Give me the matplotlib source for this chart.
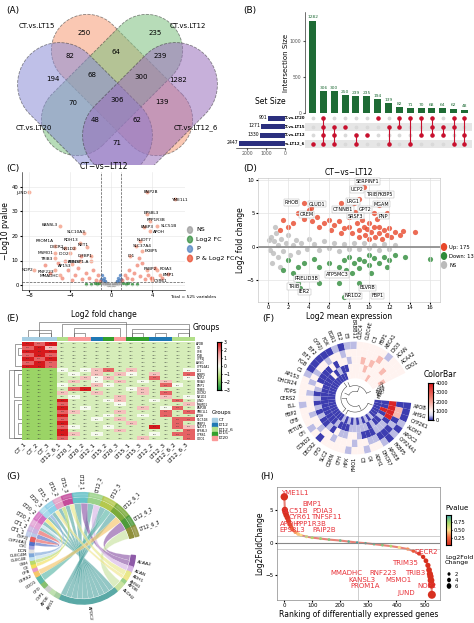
import numpy as np
import matplotlib
matplotlib.use("Agg")
import matplotlib.pyplot as plt
from matplotlib.patches import Wedge, PathPatch, Rectangle, Polygon, Circle
from matplotlib.path import Path
from matplotlib.colors import LinearSegmentedColormap

plt.rcParams['font.family'] = ['DejaVu Sans']

# ---------------- DATA ----------------
venn_sets = ["CT.vs.LT15", "CT.vs.LT12", "CT.vs.LT20", "CT.vs.LT12_6"]
venn_counts = [250, 235, 82, 64, 239, 194, 68, 300, 1282, 70, 306, 139, 48, 62, 71]

upset_values = [1282, 306, 300, 250, 239, 235, 194, 139, 82, 71, 70, 68, 64, 62, 48]
upset_sets = ["CT.vs.LT20", "CT.vs.LT15", "CT.vs.LT12", "CT.vs.LT12_6"]
upset_set_sizes = [901, 1271, 1330, 2447]
upset_members = [[3], [0, 1, 2, 3], [1, 2, 3], [1], [2, 3], [2], [0], [1, 3], [0, 1],
                 [0, 3], [0, 2], [0, 1, 2], [1, 2], [0, 1, 3], [0, 2, 3]]

volc_genes = ["JUND", "KANSL3", "SLC10A3", "PROM1A", "RDH13", "DECR2", "NR1D2", "NET1", "MSMO1",
              "IDO2", "IGFBP1", "TRIB3", "FMN3", "ADUSP1-A", "AP1S3", "NOP2", "RNF223", "MMADHC",
              "PAIP2B", "YME1L1", "EPS8L3", "PPP1R3B", "FABP3", "APOH", "SLC51B", "NUDT7",
              "SLC37A4", "FKBP5", "ID1", "PSBP2", "PDIA3", "BMP1", "CYR61"]
volc_x = [-8, -5, -2.7, -5.5, -3, -4.5, -3.6, -2.4, -5.5, -4, -2, -5.5, -3, -2, -3.8, -7.5, -5.5, -5,
          3.5, 6.2, 3.5, 3.8, 3.2, 3.8, 4.5, 2.8, 2.4, 3, 1.8, 3.5, 4.5, 4.8, 4]
volc_y = [38, 24, 21, 16, 17, 15, 15, 15.5, 13, 13, 12, 11, 10, 10, 8.5, 6, 6, 4,
          38, 35, 29, 26, 23.5, 22, 24, 18, 16, 14, 12, 6, 6, 4, 2]
volc_lab_x = [-8.2, -5.2, -2.5, -5.6, -3.2, -4.6, -3.4, -2.2, -5.6, -4.1, -1.8, -5.6, -3.1, -2.1, -3.9,
              -7.6, -5.6, -5.1, 3.2, 5.9, 3.2, 3.5, 2.9, 4.1, 4.8, 2.5, 2.1, 3.3, 1.6, 3.2, 4.7, 5.0, 4.2]
volc_lab_y = [37.5, 24.5, 21.5, 18, 18.5, 15.5, 14.5, 16.5, 13, 12.5, 12, 10.5, 9.5, 9.5, 7.8,
              6, 5.5, 3.8, 38, 34.5, 29.5, 26.5, 23.5, 21.5, 24, 18.5, 16, 14, 12, 6.5, 6.5, 4, 1.6]
volc_red_x = [-6.5, -6, -5.2, -4.8, -4.2, -3.5, -3.2, -2.8, -2.5, -2.2, -1.8, -1.5, -1.3, -1.1,
              1.1, 1.3, 1.5, 1.7, 2, 2.2, 2.5, 2.8, 3, 3.3, 3.6, 4, 4.3, 5, 5.5, -4.5, -3.8, -2.9, 2.7, 3.9]
volc_red_y = [8, 5, 9, 3, 6, 4, 7, 2.5, 5, 3, 6, 2, 4, 1.8, 2, 4, 3, 6, 2.5, 5, 8, 3.5, 9, 2.5, 4,
              3, 7, 3, 4.5, 10, 2.2, 12, 11, 2.8]
volc_ns_x = [-0.9, -0.7, -0.5, -0.3, -0.1, 0.1, 0.3, 0.5, 0.7, 0.9, -0.6, -0.2, 0.2, 0.6, 0, -0.4, 0.4]
volc_ns_y = [0.8, 0.5, 0.3, 0.2, 0.1, 0.1, 0.2, 0.3, 0.5, 0.8, 1.5, 0.6, 0.6, 1.5, 0.3, 1.0, 1.0]
volc_p_x = [-0.95, -0.8, -0.6, 0.6, 0.8, 0.95, -0.7, 0.7, -0.9, 0.9]
volc_p_y = [2.5, 2.0, 1.6, 1.6, 2.0, 2.5, 3.0, 3.0, 4.0, 4.0]
volc_fc_x = [-2.5, -2, -1.6, -1.2, 1.2, 1.6, 2, 2.5, -1.4, 1.4]
volc_fc_y = [0.3, 0.6, 0.9, 1.0, 1.0, 0.9, 0.6, 0.3, 0.4, 0.4]

ma_up = [(1.2,2.5),(1.5,4),(2,3),(2.5,3.5),(3,5),(3.5,4.2),(4,5.5),(4.3,3.8),(4.8,4.5),(5,3),(5.5,3.5),
         (6,4),(6.2,2.5),(6.5,3.2),(7,3.8),(7.2,2),(7.5,2.8),(8,4.5),(8,3),(8.3,2),(8.6,5.2),(8.8,3.5),
         (9,2.5),(9,1.5),(9.3,4),(9.5,3),(9.6,1.8),(9.8,2.6),(10,3.5),(10,1.2),(10.2,2.2),(10.5,2.9),
         (10.6,1.5),(10.8,4.2),(11,2),(11,3),(11.3,1.2),(11.5,2.5),(11.8,1.8),(12,2.8),(12.2,1.5),
         (12.5,2.2),(13,1.8),(13.3,2.4),(14.5,2.2),(8.5,8.8),(9.3,9.8),(9.5,9),(9,7.2),(10.5,7.8),
         (10.8,6.5),(11,6.2),(9.8,5.8),(11.8,5),(3.5,6.5),(4.2,5.8),(7.2,6.6),(8.5,6.5),(10.5,5)]
ma_down = [(1.5,-3.5),(2,-2),(2.5,-4),(3,-3),(3,-5.5),(3.5,-2.5),(4,-4.5),(4.5,-1.8),(5,-3),(5,-5.5),
           (6,-2.5),(6.5,-4),(7,-3),(7,-5.5),(7.5,-2),(7.7,-3.5),(7.5,-7.5),(8,-1.5),(8.3,-4),(8.5,-2.5),
           (9,-1.8),(9,-3.2),(9,-5.5),(9.5,-2.2),(10,-1.2),(10,-2.8),(10.2,-4),(10.5,-1.7),(10.8,-7.2),
           (11,-2.4),(11.5,-1.5),(11.8,-3),(12,-2),(12.5,-1.3),(13.5,-1.5),(16,-1.8),(3.2,-6.2),(3.5,-4.8)]
ma_ns = [(0.1,1),(0.2,-0.5),(0.3,1.5),(0.5,-1),(0.6,0.8),(0.8,2),(1,-1.5),(1,0.3),(1.3,1.2),(1.5,-0.6),
         (1.8,0.5),(2,1.8),(2.2,-1.2),(2.5,0.2),(2.8,1),(3,-0.8),(3.3,0.6),(3.8,-0.3),(4,1.2),(4.5,0.4),
         (5,-0.5),(5.5,0.8),(6,-0.2),(6.5,0.5),(7,-0.6),(7.5,0.4),(8,-0.3),(8.5,0.6),(9,-0.4),(9.5,0.5),
         (10,-0.2),(10.5,0.3),(11,-0.5),(11.5,0.4),(12,-0.3),(12.5,0.2),(0.4,-2.5),(1.2,-3),(0.7,3)]
ma_labels = ["SERPINF1", "UCP2", "TRIB3", "FKBP5", "RHOB", "GLUD1", "LRG1", "MGAM", "CTNNB1", "GPT2",
             "CREM", "SRSF3", "PNP", "PRELID3B", "ATP5MC3", "TRIB", "IER2", "BLVRB", "NR1D2", "FBP1"]
ma_lab_x = [9.8, 8.8, 10.4, 11.6, 2.3, 4.8, 8.4, 11.2, 7.4, 9.6, 3.8, 8.6, 11.4, 3.8, 6.8, 2.5, 3.6, 9.8, 8.4, 10.8]
ma_lab_y = [9.8, 8.6, 7.8, 7.8, 6.6, 6.4, 6.8, 6.4, 5.6, 5.6, 4.8, 4.6, 4.6, -4.8, -4.2, -6.0, -6.8, -6.2, -7.4, -7.4]

heat_samples = ["CT_1", "CT_2", "CT_3", "LT12_6_1", "LT20_1", "LT20_2", "LT12_1", "LT15_2", "LT20_3",
                "LT15_1", "LT15_3", "LT12_2", "LT12_3", "LT12_6_2", "LT12_6_3"]
heat_groups = ["CT", "CT", "CT", "LT12_6", "LT20", "LT20", "LT12", "LT15", "LT20", "LT15", "LT15",
               "LT12", "LT12", "LT12_6", "LT12_6"]
heat_rows = ["APOB", "C3", "CFB", "FGB", "CYP2J", "AHSG", "CYP24A1", "ID1", "FKBP5", "NOP2", "PDIA3",
             "BMP1", "TRIB3", "DECR2", "NR1D2", "JUND", "MSMO1", "PAIP2B", "YME1L1", "APOH", "SLC51B",
             "FABP3", "NUDT7", "EPS8L3", "CYR61", "CDO1"]
heat_grid = ["RrRgggggggggggg", "rRpgggggggggggg", "RRRgggggggggggg", "rRrgggggggggggg",
             "RrRgggggggggggg", "rRrgggggggggggg", "RRrgggggggggggg",
             "GGGwgwprgpggggw", "GGGgwgpgpwgpggr", "GGGggpwpgggrggw", "GGGgpgwgpgwgpgg",
             "GGGwggpwggggrwg", "GGGgrRgggwpgggg", "GGGpggpgggpgrgg", "GGGgwgggpgggpgw",
             "GGGRgggwpggwgrg", "GGGrggggwgggggp", "GGGRgwggggpgwrg", "GGGrpgggpgggrgr",
             "GGGRgggwggwgrgg", "GGGrggwgpggggrr", "GGGRgggggpgggrg", "GGGrwggwgggRgrp",
             "GGGRggggpgggggr", "GGGRpgwggggwgrr", "GGGrggggggpgggr"]
heat_code = {"R": 3.0, "r": 2.2, "p": 1.0, "w": 0.0, "g": -0.6, "G": -1.6}

circ_genes = ["APOB", "AHSG", "CYP2K1", "ALDH2", "APOC2", "CYP24A1", "FKBP5", "APOE8", "DHCR7", "ADH1",
              "C4", "C3", "FMO1", "HPX", "CFH", "CDKN", "SLC2", "CFD", "DECR2", "CCND2", "CFI", "FETUB",
              "CFB", "FBP2", "ELL", "CERS2", "FDPS", "DHCR24", "AP1S3", "C1", "FGB", "EIF1", "EIF2",
              "CYP2J", "FOX", "EGR1", "E12", "E3", "ERBB11", "CLEC4", "CLEC4E", "C3 ", "FBP1", "ABCA1",
              "DIO3", "ACAN", "ACAA2", "CDO1"]
circ_grid = ["BBRBB", "BBRPB", "BRRPB", "BBRBL", "BLBLB", "BBLBL", "LBLBB", "BLLBL", "LBBLW", "BLBLW",
             "LLBWL", "BLLWW", "LLWLW", "BLWWL", "LBLWW", "BBLWW", "LBWLW", "BLBWW", "BBLWB", "BBBLW",
             "BBBWL", "BBLWW", "BBBLW", "BBLWW", "BBBWL", "BBLWW", "BBBLW", "BBLWW", "BBWLW", "BBBWL",
             "BBBLB", "BBBWB", "BWBWB", "BBWLB", "BLBWB", "BBWWL", "WBWLB", "WWLWL", "WWWWL", "WWWWW",
             "WWPWW", "WPWWW", "WWPWW", "PWWPW", "WWWWL", "WWPWW", "WWWWW", "WPWWW"]
circ_code = {"B": 0, "L": 400, "W": 1000, "P": 1700, "R": 3800}

chord_samples = ["CT1_1", "CT1_2", "LT20_1", "LT20_2", "LT20_3", "LT15_1", "LT15_2", "LT15_3",
                 "LT12_1", "LT12_2", "LT12_3", "LT12_6_1", "LT12_6_2", "LT12_6_3"]
chord_sample_colors = ["#B9C8E8", "#C9B3E0", "#E3A5D6", "#D46FC1", "#A9DCEB", "#8ED0E8", "#E4A0C6",
                       "#C44C9B", "#66C2C8", "#9BD28A", "#B4C84E", "#7BAA3A", "#4E9A3A", "#8F8F3A"]
chord_sample_w = [3, 3, 4, 5, 4, 5, 5, 6, 9, 8, 8, 9, 6, 6]
chord_genes = ["ACAA2", "ACAN", "ADH1", "AHSG", "APOB", "ALDH2", "APOC2", "ARG1", "APOE", "CYP1", "CFD",
               "CDO1", "CERS2", "CFB", "C3", "CBH", "CLEC4E", "CLEC4M", "DCN", "CYC", "CYP24A1", "CYP2J"]
chord_gene_w = [6, 3, 3, 2, 2, 5, 32, 3, 3, 3, 3, 4, 3, 2, 2, 2, 2, 2, 2, 2, 2, 2]
chord_gene_colors = ["#8E5AA8", "#D7B6E6", "#E8E88A", "#F0E68C", "#9BD28A", "#C9E3A0", "#5AA9A6",
                     "#A6CFA0", "#BFE0B0", "#CFCFCF", "#88C070", "#5DB8A8", "#F6C66A", "#E89AC8",
                     "#F2E05A", "#B9DA6A", "#C1E0EE", "#7DA7D9", "#E0E0E0", "#A7A7E0", "#5470C6", "#E86060"]
chord_links = [(0, 20), (1, 21), (2, 6), (3, 6), (4, 6), (5, 6), (6, 6), (7, 6), (8, 6), (9, 6), (10, 6),
               (11, 6), (12, 0), (13, 5), (8, 0), (9, 1), (10, 11), (11, 12), (7, 2), (5, 3), (3, 14),
               (2, 16), (4, 17), (6, 15)]

rank_x = [1, 3, 5, 8, 12, 16, 20, 25, 30, 40, 50, 60, 80, 100, 130, 160, 200, 230, 260, 290, 320, 350,
          380, 410, 440, 460, 480, 495, 505, 512, 516, 519, 521, 523, 525, 526]
rank_y = [7.0, 5.0, 4.6, 4.2, 3.8, 3.3, 2.8, 2.4, 2.0, 1.6, 1.3, 1.1, 0.9, 0.75, 0.6, 0.45, 0.3, 0.15,
          0.0, -0.1, -0.25, -0.4, -0.55, -0.75, -1.0, -1.3, -1.7, -2.2, -2.8, -3.5, -4.2, -4.8, -5.2,
          -5.8, -6.5, -8.0]
rank_p = [0.01, 0.02, 0.03, 0.05, 0.07, 0.1, 0.15, 0.2, 0.25, 0.35, 0.45, 0.5, 0.6, 0.7, 0.75, 0.8,
          0.85, 0.9, 0.95, 0.9, 0.85, 0.8, 0.7, 0.5, 0.35, 0.2, 0.1, 0.05, 0.03, 0.02, 0.01, 0.01,
          0.01, 0.01, 0.01, 0.01]
rank_up_labels = ["YME1L1", "BMP1", "SLC51B", "PDIA3", "CYR61", "TNFSF11", "APOH", "PPP1R3B", "EPS8L3", "PAIP2B"]
rank_up_lx = [-10, 65, -10, 100, 15, 95, -15, 40, -15, 100]
rank_up_ly = [7.6, 5.9, 4.9, 4.9, 3.9, 3.9, 2.9, 2.9, 1.9, 1.9]
rank_dn_labels = ["DECR2", "TRIM35", "MMADHC", "RNF223", "TRIB3", "KANSL3", "MSMO1", "PROM1A", "NOP2", "JUND"]
rank_dn_lx = [465, 385, 165, 305, 430, 230, 360, 235, 475, 405]
rank_dn_ly = [-1.5, -3.2, -4.7, -4.7, -4.7, -5.8, -5.8, -6.7, -6.7, -7.8]

# ---------------- FIGURE ----------------
W, H = 474, 623
fig = plt.figure(figsize=(W / 100, H / 100), dpi=100)


def px_axes(x0, y0, x1, y1, **kw):
    return fig.add_axes([x0 / W, 1 - y1 / H, (x1 - x0) / W, (y1 - y0) / H], **kw)


for lab, x, y in [("(A)", 6, 10), ("(B)", 243, 10), ("(C)", 6, 168), ("(D)", 243, 168),
                  ("(E)", 6, 318), ("(F)", 262, 318), ("(G)", 6, 476), ("(H)", 260, 476)]:
    fig.text(x / W, 1 - y / H, lab, fontsize=6.5, va="center")


def stadium(cx, cy, half_len, half_w, dx, dy, n=30):
    u = np.array([dx, dy]) / np.hypot(dx, dy)
    v = np.array([-u[1], u[0]])
    c1 = np.array([cx, cy]) + u * (half_len - half_w)
    c2 = np.array([cx, cy]) - u * (half_len - half_w)
    base = np.arctan2(u[1], u[0])
    pts = []
    for t in np.linspace(-np.pi / 2, np.pi / 2, n):
        pts.append(c1 + half_w * (np.cos(t) * u + np.sin(t) * v))
    for t in np.linspace(np.pi / 2, 3 * np.pi / 2, n):
        pts.append(c2 + half_w * (np.cos(t) * u + np.sin(t) * v))
    return np.array(pts)


# ---- A: Venn
axA = px_axes(8, 12, 232, 165)
axA.set_xlim(8, 232); axA.set_ylim(165, 12); axA.axis("off")
for (cx, cy, hl, hw, dx, dy, col) in [(122, 85, 85, 36, 1, 1, "#F79B75"), (112, 85, 85, 36, -1, 1, "#7CC07E"),
                                       (85, 110, 78, 42, 1, 1, "#8B8DD6"), (150, 110, 78, 42, -1, 1, "#9A70BC")]:
    axA.add_patch(Polygon(stadium(cx, cy, hl, hw, dx, dy), closed=True, facecolor=col, alpha=0.55,
                          edgecolor="#333333", ls="--", lw=0.6))
venn_pos = [(84, 33), (155, 33), (70, 56), (116, 52), (160, 56), (53, 79), (92, 75), (141, 77), (178, 80),
            (73, 103), (117, 100), (162, 102), (95, 120), (137, 120), (117, 143)]
for (x, y), v in zip(venn_pos, venn_counts):
    axA.text(x, y, str(v), ha="center", va="center", fontsize=5)
for name, (x, y) in zip(venn_sets, [(37, 26), (188, 26), (34, 128), (196, 128)]):
    axA.text(x, y, name, ha="center", va="center", fontsize=5)

# ---- B: UpSet
green = "#1E6B35"
n = len(upset_values)
axB = px_axes(305, 12, 472, 113)
xs = np.arange(n)
axB.bar(xs, upset_values, width=0.65, color=green)
for x, v in zip(xs, upset_values):
    axB.text(x, v + 15, str(v), ha="center", va="bottom", fontsize=3.2, color=green)
axB.set_xlim(-0.7, n - 0.3); axB.set_ylim(0, 1400)
axB.set_yticks([0, 500, 1000]); axB.set_yticklabels(["0", "500", "1000"])
axB.tick_params(labelsize=3.3, length=1.5, pad=1, colors="#555555")
axB.set_xticks([])
for s in ["top", "right", "bottom"]:
    axB.spines[s].set_visible(False)
axB.spines["left"].set_linewidth(0.4)
axB.set_ylabel("Intersection Size", fontsize=5, labelpad=1)

axM = px_axes(305, 114, 472, 148)
axM.set_xlim(-0.7, n - 0.3); axM.set_ylim(3.5, -0.5); axM.axis("off")
for r in range(4):
    if r % 2 == 1:
        axM.axhspan(r - 0.5, r + 0.5, color="#E6E6E6", lw=0)
    axM.scatter(xs, [r] * n, s=3, color="#D9D9D9", zorder=2)
for i, mem in enumerate(upset_members):
    if len(mem) > 1:
        axM.plot([i, i], [min(mem), max(mem)], color="#C8102E", lw=0.8, zorder=3)
    axM.scatter([i] * len(mem), mem, s=5, color="#C8102E", zorder=4)
axN = px_axes(283, 114, 305, 148)
axN.set_xlim(0, 1); axN.set_ylim(3.5, -0.5); axN.axis("off")
for r, s in enumerate(upset_sets):
    axN.text(1, r, s, fontsize=2.8, ha="right", va="center", fontweight="bold")
axS = px_axes(236, 114, 285, 148)
axS.barh(range(4), upset_set_sizes, height=0.55, color="#2B2F7E")
axS.set_xlim(2600, 0); axS.set_ylim(3.5, -0.5)
axS.set_yticks([]); axS.set_xticks([2000, 1000, 0])
axS.tick_params(labelsize=3.3, length=1.5, pad=1, colors="#555555")
for s in ["top", "right", "left"]:
    axS.spines[s].set_visible(False)
axS.spines["bottom"].set_linewidth(0.4)
for r, v in enumerate(upset_set_sizes):
    axS.text(v + 50, r - 0.1, str(v), fontsize=3.3, ha="right", va="center")
fig.text(270 / W, 1 - 104 / H, "Set Size", fontsize=5.5, ha="center")

# ---- C: volcano
axC = px_axes(22, 172, 185, 290)
axC.grid(color="#E5E5E5", lw=0.4)
axC.scatter(volc_ns_x, volc_ns_y, s=6, color="#999999", alpha=0.7, lw=0)
axC.scatter(volc_fc_x, volc_fc_y, s=6, color="#2E8B3A", alpha=0.8, lw=0)
axC.scatter(volc_p_x, volc_p_y, s=6, color="#4A7FC0", alpha=0.8, lw=0)
axC.scatter(volc_red_x, volc_red_y, s=8, color="#E8472A", alpha=0.5, lw=0)
axC.scatter(volc_x, volc_y, s=8, color="#F08060", alpha=0.6, lw=0)
for g, x, y in zip(volc_genes, volc_lab_x, volc_lab_y):
    axC.text(x, y, g, fontsize=3.1, va="center", ha="left" if x > 0 else "right")
axC.axvline(-1, ls="--", color="#555555", lw=0.5)
axC.axvline(1, ls="--", color="#555555", lw=0.5)
axC.axhline(1.3, ls="--", color="#555555", lw=0.5)
axC.set_xlim(-8.7, 7.2); axC.set_ylim(-2, 46)
axC.set_xticks([-8, -4, 0, 4]); axC.set_yticks([0, 10, 20, 30, 40])
axC.tick_params(labelsize=3.8, length=1.5, pad=1)
for s in axC.spines.values():
    s.set_visible(False)
axC.spines["left"].set_visible(True); axC.spines["bottom"].set_visible(True)
axC.spines["left"].set_linewidth(0.4); axC.spines["bottom"].set_linewidth(0.4)
axC.set_title("CT\u2212vs\u2212LT12", fontsize=5.5, pad=2)
axC.set_xlabel("Log2 fold change", fontsize=5.5, labelpad=8)
axC.set_ylabel("\u2212Log10 pvalue", fontsize=5.5, labelpad=1)
fig.text(170 / W, 1 - 298 / H, "Total = 525 variables", fontsize=3.2, ha="left")
for i, (lab, col) in enumerate([("NS", "#999999"), ("Log2 FC", "#2E8B3A"), ("P", "#4A7FC0"),
                                ("P & Log2 FC", "#E8472A")]):
    yy = 230 + i * 9.5
    fig.patches.append(Circle((190 / W, 1 - yy / H), 2.5 / W, transform=fig.transFigure, color=col, alpha=0.7))
    fig.text(196 / W, 1 - yy / H, lab, fontsize=4.6, va="center")

# ---- D: MA plot
axD = px_axes(258, 178, 440, 302)
axD.grid(color="#E3E3E3", lw=0.5)
axD.scatter([p[0] for p in ma_ns], [p[1] for p in ma_ns], s=14, color="#BBBBBB", alpha=0.8, lw=0)
axD.scatter([p[0] for p in ma_up], [p[1] for p in ma_up], s=14, color="#E8472A", alpha=0.8, lw=0)
axD.scatter([p[0] for p in ma_down], [p[1] for p in ma_down], s=14, color="#2E8B3A", alpha=0.8, lw=0)
axD.axhline(0, color="#888888", lw=1.2)
for g, x, y in zip(ma_labels, ma_lab_x, ma_lab_y):
    axD.text(x, y, g, fontsize=3.5, ha="center", va="center",
             bbox=dict(boxstyle="square,pad=0.15", fc="white", ec="#AAAAAA", lw=0.3))
axD.set_xlim(-1, 17); axD.set_ylim(-8.3, 10.3)
axD.set_xticks(range(0, 17, 2)); axD.set_yticks([-5, 0, 5, 10])
axD.tick_params(labelsize=3.8, length=1.5, pad=1)
for s in axD.spines.values():
    s.set_linewidth(0.4); s.set_color("#BBBBBB")
axD.set_title("CT\u2212vs\u2212LT12", fontsize=5.5, pad=2)
axD.set_xlabel("Log2 mean expression", fontsize=5.5, labelpad=1)
axD.set_ylabel("Log2 fold change", fontsize=5.5, labelpad=1)
for i, (lab, col) in enumerate([("Up: 175", "#E8472A"), ("Down: 133", "#2E8B3A"), ("NS", "#BBBBBB")]):
    yy = 247 + i * 9
    fig.patches.append(Circle((444 / W, 1 - yy / H), 2.5 / W, transform=fig.transFigure, color=col))
    fig.text(449 / W, 1 - yy / H, lab, fontsize=3.8, va="center")

# ---- E: heatmap
gcols = {"CT": "#A6CEE3", "LT12": "#1F78B4", "LT12_6": "#B2DF8A", "LT15": "#33A02C", "LT20": "#FB9A99"}
heat = np.array([[heat_code[c] for c in row] for row in heat_grid])
cmapE = LinearSegmentedColormap.from_list("gwr", ["#1A9641", "#A6D96A", "#F7FBEF", "#F4A3A3", "#D7191C"])
axE = px_axes(22, 342, 195, 440)
axE.imshow(heat, cmap=cmapE, vmin=-3, vmax=3, aspect="auto", interpolation="nearest")
for i in range(heat.shape[0]):
    for j in range(heat.shape[1]):
        axE.text(j, i, f"{heat[i, j]:.2f}", fontsize=1.3, ha="center", va="center", color="#333333")
axE.set_xticks(range(len(heat_samples)))
axE.set_xticklabels(heat_samples, rotation=45, ha="right", fontsize=4.2)
axE.set_yticks(range(len(heat_rows)))
axE.set_yticklabels(heat_rows, fontsize=2.2)
axE.yaxis.tick_right()
axE.tick_params(length=0, pad=1)
for s in axE.spines.values():
    s.set_visible(False)
axG = px_axes(22, 337, 195, 341)
axG.imshow([[matplotlib.colors.to_rgb(gcols[g]) for g in heat_groups]], aspect="auto")
axG.axis("off")
axT = px_axes(22, 322, 195, 337)
axT.set_xlim(-0.5, len(heat_samples) - 0.5); axT.set_ylim(0, 1); axT.axis("off")
for a, b, h in [(0, 2, 0.5), (3, 14, 0.9), (4, 8, 0.6), (9, 14, 0.55), (1, 2, 0.3), (4, 5, 0.3), (9, 10, 0.3),
                (11, 12, 0.3), (13, 14, 0.3), (1.0, 8.5, 1.0)]:
    axT.plot([a, a, b, b], [0, h, h, 0], color="#555555", lw=0.4)
axL = px_axes(8, 342, 22, 440)
axL.set_ylim(len(heat_rows) - 0.5, -0.5); axL.set_xlim(0, 1); axL.axis("off")
for a, b, h in [(0, 6, 0.5), (7, 25, 0.95), (7, 14, 0.6), (15, 25, 0.6), (1, 3, 0.3), (8, 11, 0.3),
                (16, 20, 0.3), (21, 24, 0.3)]:
    axL.plot([1, 1 - h, 1 - h, 1], [a, a, b, b], color="#555555", lw=0.4)
fig.text(193 / W, 1 - 330 / H, "Groups", fontsize=5.5, ha="left")
cbE = px_axes(217, 342, 221, 390)
cbE.imshow(np.linspace(3, -3, 50)[:, None], cmap=cmapE, aspect="auto", extent=[0, 1, -3, 3])
cbE.yaxis.tick_right(); cbE.set_xticks([])
cbE.set_yticks([-3, -2, -1, 0, 1, 2, 3]); cbE.tick_params(labelsize=3.3, length=1, pad=1)
fig.text(212 / W, 1 - 414 / H, "Groups", fontsize=4, ha="left")
for i, g in enumerate(["CT", "LT12", "LT12_6", "LT15", "LT20"]):
    yy = 420 + i * 4.5
    fig.patches.append(Rectangle((212 / W, 1 - (yy + 2) / H), 5 / W, 4 / H, transform=fig.transFigure,
                                 color=gcols[g]))
    fig.text(219 / W, 1 - yy / H, g, fontsize=3.2, va="center")

# ---- F: circular heatmap
cmapF = LinearSegmentedColormap.from_list("bwr", [(0, "#3D3DB0"), (0.12, "#D8D8F0"), (0.25, "#FFF3F0"),
                                                  (0.6, "#F08070"), (1, "#D7191C")])
axF = px_axes(293, 336, 417, 460, projection="polar")
axF.set_theta_direction(-1)
axF.set_theta_zero_location("N")
ng = len(circ_genes)
gap = 0.55
step = (2 * np.pi - gap) / ng
start = np.deg2rad(95)
for i, (g, ring) in enumerate(zip(circ_genes, circ_grid)):
    th = start + i * step
    for k, c in enumerate(ring):
        axF.bar(th, 0.13, width=step, bottom=0.35 + k * 0.13, color=cmapF(circ_code[c] / 4000),
                edgecolor="none", align="edge")
    ang = (np.rad2deg(th + step / 2)) % 360
    # screen angle (counterclockwise from east)
    scr = (90 - ang) % 360
    right = scr < 90 or scr > 270
    rot = scr if right else scr - 180
    axF.text(th + step / 2, 1.05, g, fontsize=3.6, rotation=rot, rotation_mode="anchor",
             ha="left" if right else "right", va="center")
for k, s in enumerate(["LT12_1", "LT12_2", "LT12_3", "LT15_1", "LT15_3"]):
    axF.text(start - 0.08 * (5 - k), 0.38, s, fontsize=2.5, rotation=60, ha="left")
# inner dendrogram (simple)
for a, b, r in [(0.3, 2.0, 0.25), (2.2, 4.0, 0.25), (4.2, 5.8, 0.22), (1.0, 3.0, 0.15), (3.5, 5.0, 0.12)]:
    t = np.linspace(start + a, start + b, 20)
    axF.plot(t, [r] * 20, color="#333333", lw=0.35)
    axF.plot([start + a] * 2, [r, r + 0.08], color="#333333", lw=0.35)
    axF.plot([start + b] * 2, [r, r + 0.08], color="#333333", lw=0.35)
axF.set_ylim(0, 1.1); axF.axis("off")
fig.text(424 / W, 1 - 377 / H, "ColorBar", fontsize=5.5)
cbF = px_axes(428, 383, 433, 420)
cbF.imshow(np.linspace(4000, 0, 50)[:, None], cmap=cmapF, vmin=0, vmax=4000, aspect="auto",
           extent=[0, 1, 0, 4000])
cbF.yaxis.tick_right(); cbF.set_xticks([])
cbF.set_yticks([0, 1000, 2000, 3000, 4000]); cbF.tick_params(labelsize=3.5, length=1, pad=1)

# ---- G: chord diagram
axCh = px_axes(5, 482, 160, 620)
axCh.set_xlim(-1.45, 1.45); axCh.set_ylim(-1.3, 1.3); axCh.set_aspect("equal"); axCh.axis("off")
sw = np.array(chord_sample_w, float)
gw = np.array(chord_gene_w, float)
s_span, g_span = 150.0, 190.0
s_edges = 165 - np.concatenate([[0], np.cumsum(sw)]) / sw.sum() * s_span
g_edges_real = -5 - np.concatenate([[0], np.cumsum(gw)]) / gw.sum() * g_span


def arcpts(a1, a2, r=1.0, n=20):
    t = np.deg2rad(np.linspace(a1, a2, n))
    return np.c_[r * np.cos(t), r * np.sin(t)]


R0 = 0.9
for i, name in enumerate(chord_samples):
    a1, a2 = s_edges[i], s_edges[i + 1]
    axCh.add_patch(Wedge((0, 0), 1.0, a2, a1, width=0.08, color=chord_sample_colors[i]))
    axCh.add_patch(Wedge((0, 0), 1.1, a2, a1, width=0.07, color=chord_sample_colors[i], alpha=0.8))
    m = (a1 + a2) / 2
    axCh.text(1.14 * np.cos(np.deg2rad(m)), 1.14 * np.sin(np.deg2rad(m)), name, fontsize=3.4,
              rotation=m if m < 90 else m - 180, rotation_mode="anchor",
              ha="left" if m < 90 else "right", va="center")
for j, name in enumerate(chord_genes):
    a1, a2 = g_edges_real[j], g_edges_real[j + 1]
    axCh.add_patch(Wedge((0, 0), 1.0, a2, a1, width=0.08, color=chord_gene_colors[j]))
    m = (a1 + a2) / 2
    mm = m % 360
    left = 90 < mm < 270
    axCh.text(1.05 * np.cos(np.deg2rad(m)), 1.05 * np.sin(np.deg2rad(m)), name, fontsize=3.2,
              rotation=mm - 180 if left else mm, rotation_mode="anchor",
              ha="right" if left else "left", va="center")
s_used = [0.0] * len(chord_samples)
g_used = [0.0] * len(chord_genes)
s_cnt = [sum(1 for l in chord_links if l[0] == i) for i in range(len(chord_samples))]
g_cnt = [sum(1 for l in chord_links if l[1] == j) for j in range(len(chord_genes))]
for si, gj in chord_links:
    sa1, sa2 = s_edges[si], s_edges[si + 1]
    d = (sa2 - sa1) / s_cnt[si]
    a1 = sa1 + s_used[si] * d; a2 = a1 + d; s_used[si] += 1
    ga1, ga2 = g_edges_real[gj], g_edges_real[gj + 1]
    e = (ga2 - ga1) / g_cnt[gj]
    b1 = ga1 + g_used[gj] * e; b2 = b1 + e; g_used[gj] += 1
    p1 = arcpts(a1, a2, R0); p2 = arcpts(b1, b2, R0)
    verts = list(p1) + [(0, 0), tuple(p2[0])] + list(p2[1:]) + [(0, 0), tuple(p1[0])]
    codes = [Path.MOVETO] + [Path.LINETO] * (len(p1) - 1) + [Path.CURVE3, Path.CURVE3] + \
            [Path.LINETO] * (len(p2) - 1) + [Path.CURVE3, Path.CURVE3]
    axCh.add_patch(PathPatch(Path(verts, codes), fc=chord_gene_colors[gj], ec="white", lw=0.2, alpha=0.65))

# ---- H: ranking plot
axH = px_axes(277, 487, 440, 600)
cmapH = LinearSegmentedColormap.from_list("p", ["#D7301F", "#F46D43", "#FEE08B", "#A6D96A", "#3FA7A8"])
sizes = [3 + 2.5 * abs(v) ** 1.2 for v in rank_y]
axH.plot(rank_x, rank_y, color="#D7301F", lw=1.5, alpha=0.6, zorder=1)
axH.scatter(rank_x, rank_y, s=sizes, c=rank_p, cmap=cmapH, vmin=0.05, vmax=0.95, lw=0, zorder=2)
axH.axhline(0, color="#888888", lw=0.8)
axH.axhline(1, color="#AAAAAA", lw=0.4)
axH.axhline(-1, color="#AAAAAA", lw=0.4)
axH.axvline(262, color="#AAAAAA", lw=0.4)
for g, x, y in zip(rank_up_labels + rank_dn_labels, rank_up_lx + rank_dn_lx, rank_up_ly + rank_dn_ly):
    axH.text(x, y, g, fontsize=5, color="#E8333A", ha="left", va="center")
axH.set_xlim(-25, 555); axH.set_ylim(-8.8, 8.5)
axH.set_xticks([0, 100, 200, 300, 400, 500]); axH.set_yticks([-5, 0, 5])
axH.tick_params(labelsize=4, length=1.5, pad=1)
for s in axH.spines.values():
    s.set_linewidth(0.5); s.set_color("#888888")
axH.set_xlabel("Ranking of differentially expressed genes", fontsize=5.5, labelpad=1)
axH.set_ylabel("Log2FoldChange", fontsize=5.5, labelpad=1)
fig.text(445 / W, 1 - 510 / H, "Pvalue", fontsize=5)
cbH = px_axes(446, 515, 451, 545)
cbH.imshow(np.linspace(0.95, 0.05, 50)[:, None], cmap=cmapH, aspect="auto", extent=[0, 1, 0.05, 0.95])
cbH.yaxis.tick_right(); cbH.set_xticks([])
cbH.set_yticks([0.25, 0.5, 0.75]); cbH.tick_params(labelsize=3.8, length=1, pad=1)
fig.text(445 / W, 1 - 560 / H, "Log2Fold\nChange", fontsize=4.5, va="center")
for i, v in enumerate([2, 4, 6]):
    yy = 574 + i * 6
    fig.patches.append(Circle((449 / W, 1 - yy / H), (0.8 + 0.4 * i) / W, transform=fig.transFigure,
                              color="black"))
    fig.text(455 / W, 1 - yy / H, str(v), fontsize=3.8, va="center")

fig.savefig("out.png", dpi=100)
